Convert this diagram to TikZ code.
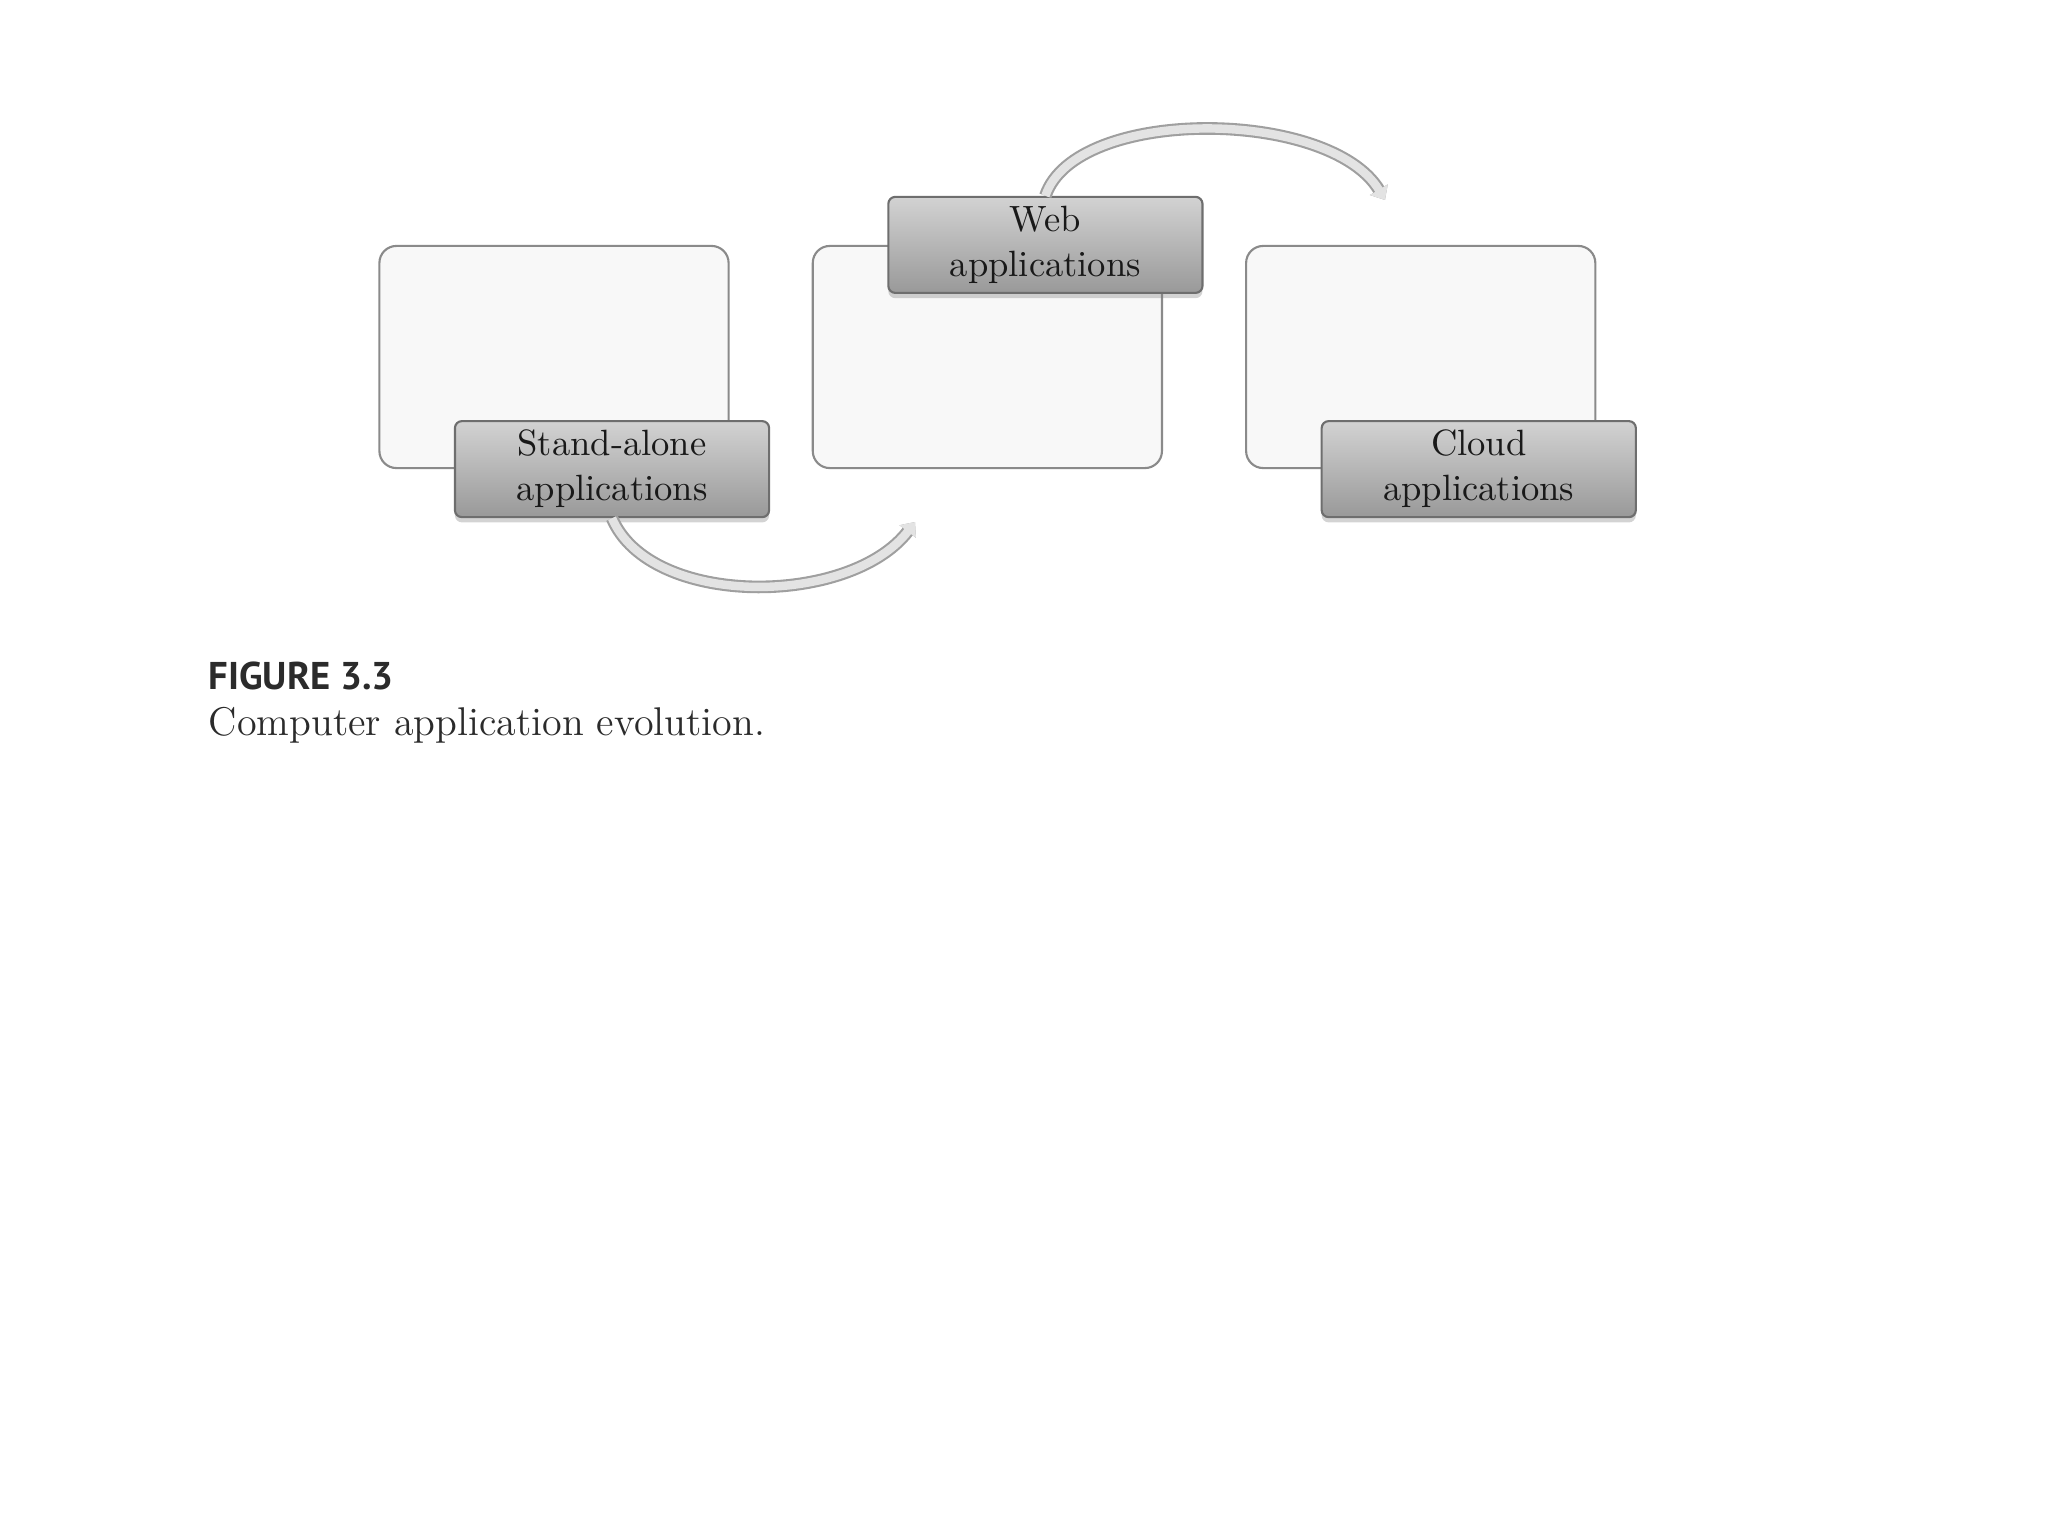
\documentclass[tikz,border=0pt]{standalone}
\usepackage{fontspec}
\newfontfamily\capfont{PT Sans}
\usetikzlibrary{positioning}
\usetikzlibrary{shadows}
\usetikzlibrary{arrows.meta}
\definecolor{boxfill}{HTML}{F8F8F8}
\definecolor{boxline}{HTML}{8A8A8A}
\definecolor{tagline}{HTML}{6E6E6E}
\definecolor{captext}{HTML}{2B2B2B}
\tikzset{
  appbox/.style={draw=boxline, fill=boxfill, line width=0.6pt, rounded corners=0.17cm,
    minimum width=3.49cm, minimum height=2.22cm, inner sep=0pt},
  apptag/.style={draw=tagline, line width=0.6pt, rounded corners=0.07cm,
    top color=gray!35, bottom color=gray!80, minimum width=3.14cm, minimum height=0.96cm,
    inner sep=0pt, align=center, text=black!90, font=\fontsize{10.4}{12.8}\selectfont,
    drop shadow={shadow xshift=0pt, shadow yshift=-1.5pt, opacity=0.35, fill=gray}},
  evolve/.style={draw=gray!22, line width=2.4pt, -{Triangle[length=0.12cm,width=0.2cm]},
    preaction={draw=gray!75, line width=3.6pt}},
  caption/.style={anchor=base west, inner sep=0pt, text=captext}
}
\begin{document}
\begin{tikzpicture}[x=0.01cm, y=-0.01cm]
  \useasboundingbox (0,0) rectangle (2048,1536);
  % three stages
  \node[appbox] (alone) at (554,357) {};
  \node[appbox, right=0.82cm of alone] (web) {};
  \node[appbox, right=0.82cm of web] (cloud) {};
  \node[apptag] (alonetag) at ([xshift=0.58cm]alone.south) {Stand-alone\\applications};
  \node[apptag] (webtag) at ([xshift=0.58cm]web.north) {Web\\applications};
  \node[apptag] (cloudtag) at ([xshift=0.58cm]cloud.south) {Cloud\\applications};
  % arrow ends
  \coordinate (tip1) at (915,522);
  \coordinate (tip2) at (1385,200);
  \draw[evolve] (alonetag.south) .. controls +(38,90) and +(-65,85) .. (tip1);
  \draw[evolve] (webtag.north) .. controls +(30,-90) and +(-55,-92) .. (tip2);
  % caption
  \node[caption, font=\capfont\bfseries\fontsize{11}{13}\selectfont] (fignum) at (208,689) {FIGURE 3.3};
  \node[caption, font=\fontsize{11.4}{13}\selectfont] (figtitle) at (208,735) {Computer application evolution.};
\end{tikzpicture}
\end{document}
